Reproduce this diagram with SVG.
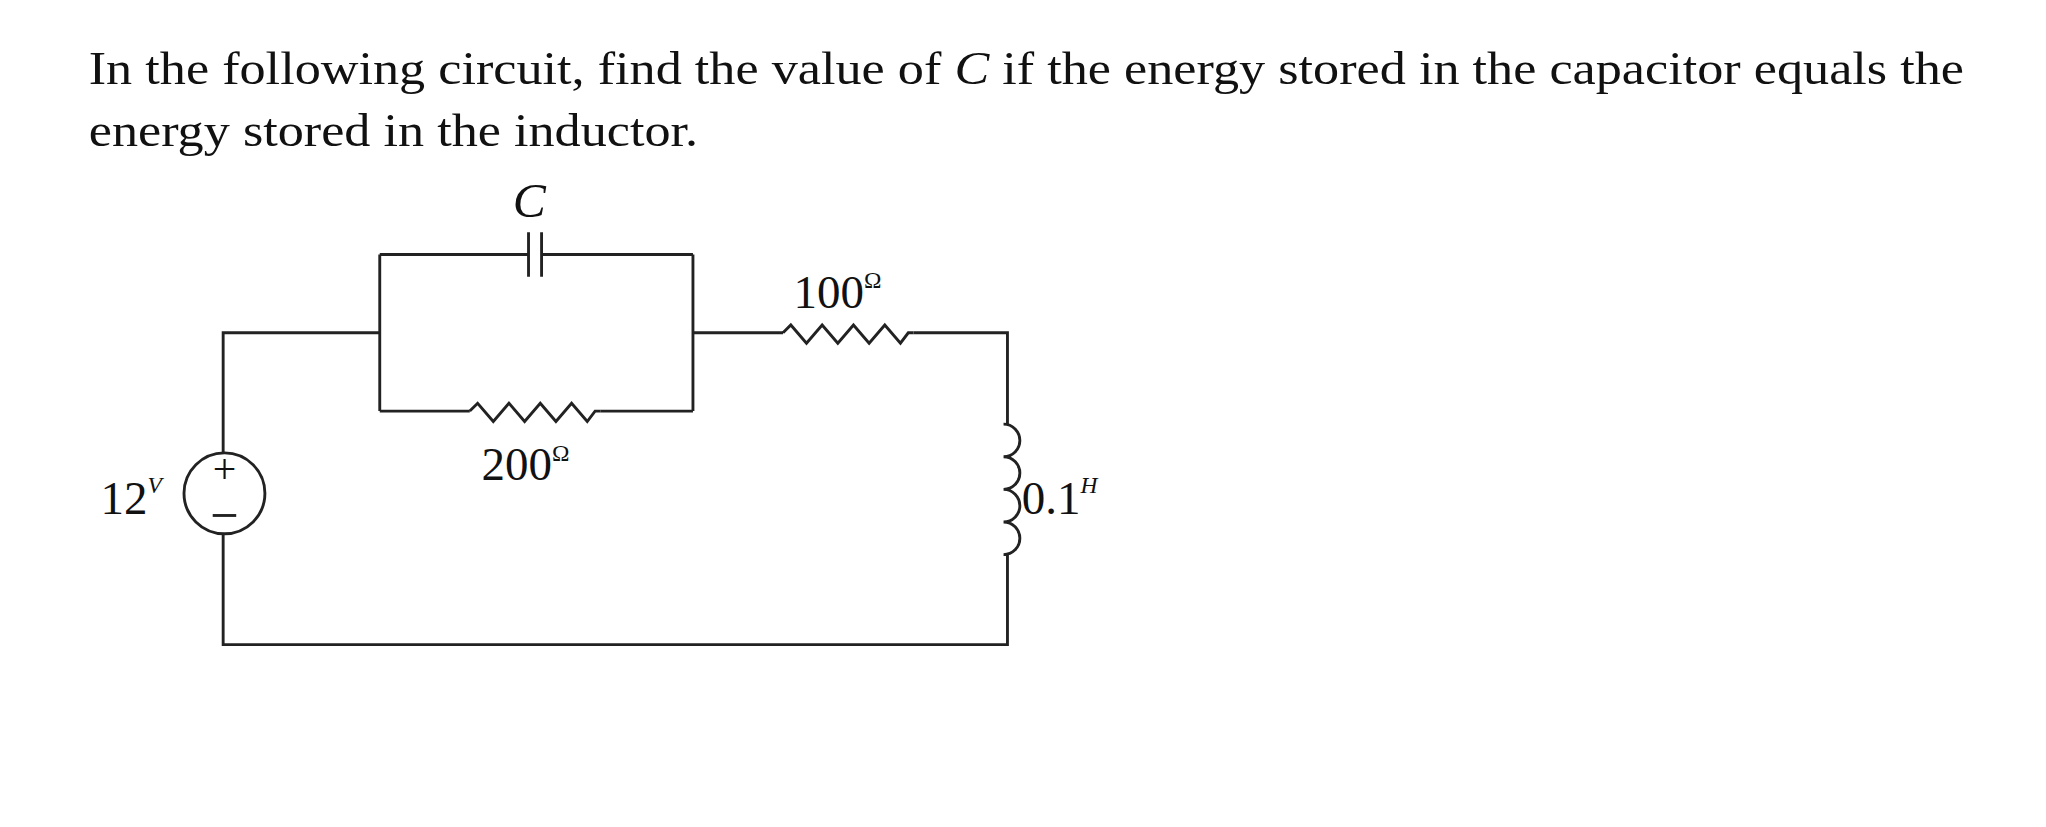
<svg xmlns="http://www.w3.org/2000/svg" width="2046" height="827" viewBox="0 0 2046 827">
<style>
.w{fill:none;stroke:#222;stroke-width:2.2;stroke-linejoin:miter}
.t{font-family:"Liberation Serif",serif;fill:#111}
</style>
<rect width="2046" height="827" fill="#fff"/>
<g transform="scale(1.305)">
<text class="t" x="68" y="64" font-size="36" textLength="1437" lengthAdjust="spacingAndGlyphs">In the following circuit, find the value of <tspan font-style="italic">C</tspan> if the energy stored in the capacitor equals the</text>
<text class="t" x="68" y="112" font-size="36" textLength="467" lengthAdjust="spacingAndGlyphs">energy stored in the inductor.</text>
<g id="wires">
<path class="w" d="M171 347 V255 H291 M291 195 V315 M531 195 V315 M291 195 H405 M415 195 H531 M291 315 H360 M460 315 H531 M531 255 H600 M700 255 H772 V325 M772 425 V494 H171 V409"/>
</g>
<g id="capacitor"><path class="w" d="M405 178 V212 M415 178 V212"/></g>
<g id="r200"><path class="w" d="M360 315 L366 309 L378 323 L390 309 L402 323 L414 309 L426 323 L438 309 L450 323 L456 315 H460"/></g>
<g id="r100"><path class="w" d="M600 255 L606 249 L618 263 L630 249 L642 263 L654 249 L666 263 L678 249 L690 263 L696 255 H700"/></g>
<g id="inductor"><path class="w" d="M769 325 A12.5 12.5 0 0 1 769 350 A12.5 12.5 0 0 1 769 375 A12.5 12.5 0 0 1 769 400 A12.5 12.5 0 0 1 769 425 H772"/></g>
<g id="source">
<ellipse class="w" cx="172" cy="378" rx="31" ry="31"/>
<text class="t" x="172" y="370" font-size="32" text-anchor="middle" font-family="'Liberation Sans',sans-serif">+</text>
<path class="w" d="M163 395 H181" stroke-width="2.6"/>
</g>
<g id="labels">
<text class="t" x="393" y="166" font-size="38" font-style="italic">C</text>
<text class="t" x="608" y="236" font-size="36">100<tspan font-size="18" dy="-15">Ω</tspan></text>
<text class="t" x="369" y="368" font-size="36">200<tspan font-size="18" dy="-15">Ω</tspan></text>
<text class="t" x="77" y="394" font-size="36">12<tspan font-size="18" dy="-16" font-style="italic">V</tspan></text>
<text class="t" x="783" y="394" font-size="36">0.1<tspan font-size="18" dy="-16" font-style="italic">H</tspan></text>
</g>
</g>
</svg>
